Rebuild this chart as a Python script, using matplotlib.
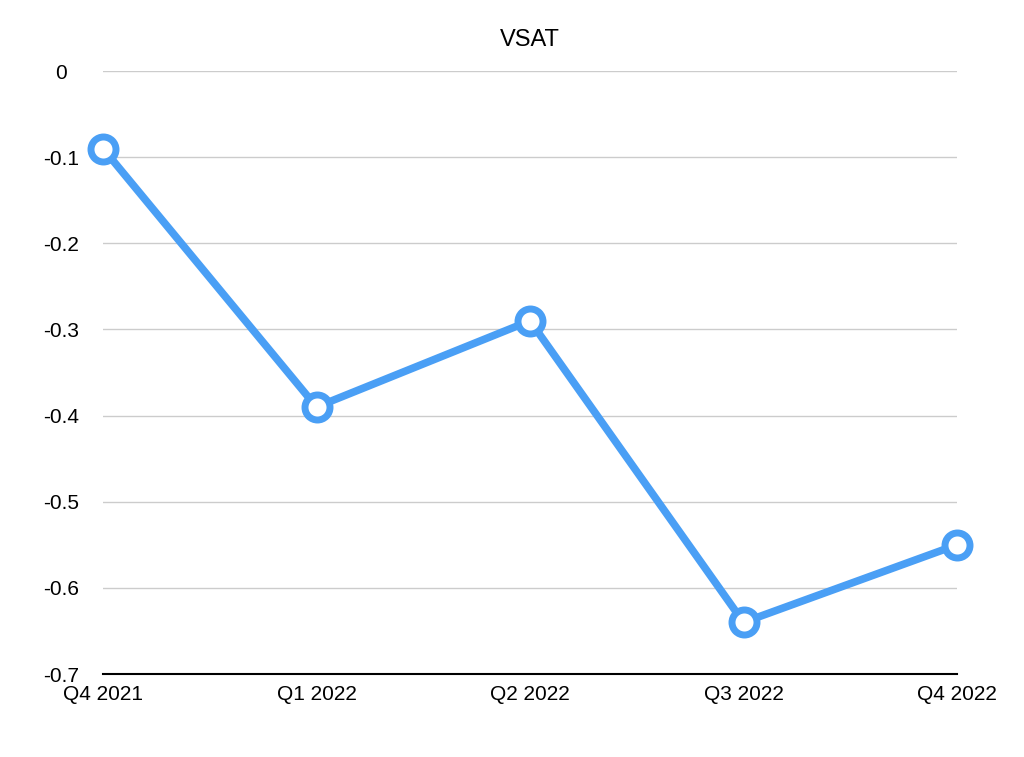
import matplotlib
matplotlib.use("Agg")
import matplotlib.pyplot as plt

categories = ["Q4 2021", "Q1 2022", "Q2 2022", "Q3 2022", "Q4 2022"]
values = [-0.09, -0.39, -0.29, -0.64, -0.55]
yticks = [0, -0.1, -0.2, -0.3, -0.4, -0.5, -0.6, -0.7]
ytick_labels = ["0", "-0.1", "-0.2", "-0.3", "-0.4", "-0.5", "-0.6", "-0.7"]

plt.rcParams['font.family'] = ['Liberation Sans', 'DejaVu Sans']
fig = plt.figure(figsize=(10.24, 7.57), dpi=100)
ax = fig.add_axes([0.1006, 0.1096, 0.834, 0.7966])
x = list(range(len(categories)))
ax.plot(x, values, color="#4A9FF5", lw=5.5, marker="o", markersize=18,
        markerfacecolor="white", markeredgecolor="#4A9FF5", markeredgewidth=5,
        clip_on=False, zorder=3)
ax.set_xlim(0, len(categories) - 1)
ax.set_ylim(-0.7, 0)
ax.set_yticks(yticks)
ax.set_yticklabels(ytick_labels, fontsize=15, ha="center")
ax.set_xticks(x)
ax.set_xticklabels(categories, fontsize=15)
ax.tick_params(axis="y", length=0, pad=30)
ax.tick_params(axis="x", length=0, pad=8)
ax.grid(axis="y", color="#cccccc", lw=1)
for s in ["top", "right", "left"]:
    ax.spines[s].set_visible(False)
ax.spines["bottom"].set_color("black")
ax.spines["bottom"].set_linewidth(1.5)
ax.set_title("VSAT", fontsize=17, pad=18)
fig.savefig("out.png", dpi=100)
